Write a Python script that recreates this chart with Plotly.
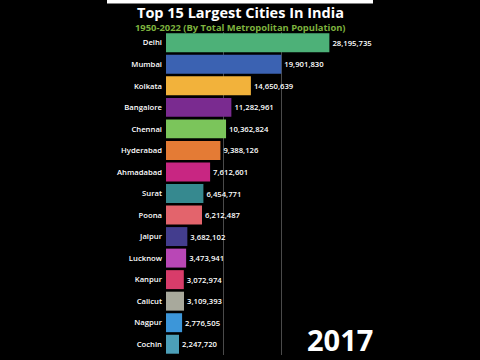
import plotly.graph_objects as go

cities = ["Delhi", "Mumbai", "Kolkata", "Bangalore", "Chennai", "Hyderabad",
          "Ahmadabad", "Surat", "Poona", "Jaipur", "Lucknow", "Kanpur",
          "Calicut", "Nagpur", "Cochin"]
population = [28195735, 19901830, 14650639, 11282961, 10362824, 9388126,
              7612601, 6454771, 6212487, 3682102, 3473941, 3072974,
              3109393, 2776505, 2247720]
colors = ["#4db178", "#3b62b2", "#f2b23b", "#7a2b90", "#7bc55b", "#e47b35",
          "#c82682", "#36898f", "#e3646c", "#433d8e", "#b947b6", "#d83c6a",
          "#a8a99c", "#3c96d9", "#4c9fb8"]
title = "Top 15 Largest Cities In India"
subtitle = "1950-2022 (By Total Metropolitan Population)"
year = "2017"
grid_values = [10_000_000, 20_000_000]

FONT = "Open Sans"

fig = go.Figure(go.Bar(
    x=population,
    y=cities,
    orientation="h",
    marker=dict(color=colors, line=dict(width=0)),
    text=[f"{v:,}" for v in population],
    textposition="outside",
    textfont=dict(color="white", size=7.7, family=FONT, weight=600),
    constraintext="none",
    cliponaxis=False,
    hoverinfo="skip",
))

W_L, W_R, M_T, M_B = 166, 117, 32, 5
pw = 480 - W_L - W_R
ph = 360 - M_T - M_B

def px(xp):
    return (xp - W_L) / pw

def py(yp):
    return (360 - M_B - yp) / ph

fig.update_layout(
    width=480, height=360,
    margin=dict(l=W_L, r=W_R, t=M_T, b=M_B),
    paper_bgcolor="black",
    plot_bgcolor="black",
    showlegend=False,
    hovermode=False,
    bargap=0.12,
    font=dict(family=FONT, color="white"),
    xaxis=dict(range=[0, 34_000_000], tickvals=grid_values, showticklabels=False,
               showgrid=True, gridcolor="#4a4a4a", gridwidth=1, zeroline=False,
               showline=False, fixedrange=True),
    yaxis=dict(categoryorder="array", categoryarray=cities, autorange="reversed",
               tickfont=dict(size=7.7, color="white", family=FONT, weight=600),
               showgrid=False, zeroline=False, showline=False, ticks="",
               ticklabelstandoff=3, fixedrange=True),
    shapes=[dict(type="rect", xref="paper", yref="paper",
                 x0=px(107), x1=px(373), y0=py(3.5), y1=py(-2),
                 fillcolor="white", line=dict(width=0), layer="above")],
    annotations=[
        dict(text=f"<b>{title}</b>", xref="paper", yref="paper",
             x=px(240), y=py(12.8), xanchor="center", yanchor="middle",
             showarrow=False, font=dict(size=14.5, color="white", family=FONT)),
        dict(text=f"<b>{subtitle}</b>", xref="paper", yref="paper",
             x=px(240), y=py(27), xanchor="center", yanchor="middle",
             showarrow=False, font=dict(size=9.4, color="#7db23e", family=FONT)),
        dict(text=f"<b>{year}</b>", xref="paper", yref="paper",
             x=px(340), y=py(339), xanchor="center", yanchor="middle",
             showarrow=False, font=dict(size=29, color="white", family=FONT)),
    ],
)

fig.write_html(
    "out.html",
    config={"displayModeBar": False, "staticPlot": True},
    post_script="document.body.style.margin='0';document.body.style.background='black';",
)
